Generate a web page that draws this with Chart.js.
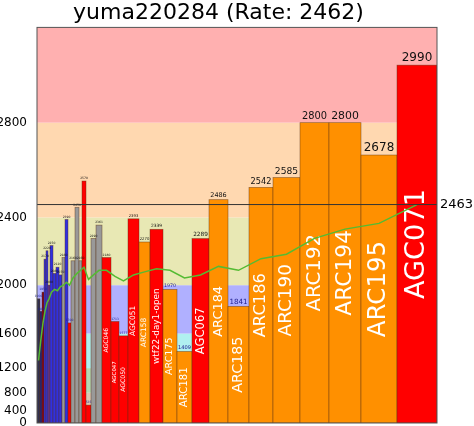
<!DOCTYPE html>
<html><head><meta charset="utf-8">
<script src="https://cdn.jsdelivr.net/npm/chart.js@4"></script>
<style>html,body{margin:0;padding:0;background:#fff}#w{width:474px;height:426px}</style>
</head><body><div id="w"><canvas id="c"></canvas></div>
<script>
const contests = ['','','','','','','','','','','','','','','','','','','','',
 'AGC046','AGC047','AGC050','AGC051','ARC158','wtf22-day1-open','ARC175','ARC181','AGC067','ARC184','ARC185','ARC186','ARC190','ARC192','ARC194','ARC195','AGC071'];
const perf = [1900,1800,1950,2170,2220,2000,2250,2080,2120,2070,2180,2390,1700,2160,2450,2160,2570,535,2290,2361,
 2180,1713,1577,2393,2270,2339,1970,1409,2289,2486,1841,2542,2585,2800,2800,2678,2990];
const weights = [3,2,2,2,2,2,3,3,3,3,3,3,3,4,4,3,4,5,5,6,9,8,9,11,11,13,14,15,17,19,21,24,27,29,32,36,40];
const barColors = ['#303050','#202080','#800020','#3030e0','#3030e0','#6030a0','#3030e0','#3030e0','#3030e0','#3030e0','#999999','#3030e0','#ff0000','#999999','#999999','#999999','#ff0000','#ff0000','#999999','#999999',
 '#ff0000','#ff0000','#ff0000','#ff0000','#ff9000','#ff0000','#ff9000','#ff9000','#ff0000','#ff9000','#ff9000','#ff9000','#ff9000','#ff9000','#ff9000','#ff9000','#ff0000'];
const rating = [1300,1550,1700,1800,1870,1900,1950,1970,1960,1990,2000,2020,2000,2050,2080,2100,2120,2040,2070,2100,
 2100,2060,2030,2070,2090,2110,2100,2050,2070,2125,2100,2173,2200,2290,2340,2370,2463];
const currentRate = 2463;
const yTicks = [0,400,800,1200,1600,2000,2400,2800];
const bands = [[0,400,'#d8d8d8'],[400,800,'#dcc8b4'],[800,1200,'#b4d8b4'],[1200,1600,'#b0f0f0'],[1600,2000,'#b0b0ff'],[2000,2400,'#e8e8b4'],[2400,2800,'#ffd8b0'],[2800,4000,'#ffb0b0']];

const T = r => Math.pow(1.4, r/400) - 1;
const Tinv = v => 400*Math.log(v+1)/Math.log(1.4);
const edges = [0]; weights.forEach(w => edges.push(edges[edges.length-1]+w));
const total = edges[edges.length-1];
const linePts = rating.map((r,i)=>({x:(edges[i]+edges[i+1])/2, y:T(r)}));

const drawPlug = {
  id:'bars',
  beforeDatasetsDraw(ch){
    const {ctx, chartArea:a, scales:{x,y}} = ch;
    ctx.save();
    ctx.beginPath(); ctx.rect(a.left,a.top,a.right-a.left,a.bottom-a.top); ctx.clip();
    bands.forEach(([lo,hi,c])=>{
      const y1=y.getPixelForValue(T(hi)), y0=y.getPixelForValue(T(lo));
      ctx.fillStyle=c; ctx.fillRect(a.left,y1,a.right-a.left,y0-y1);
    });
    perf.forEach((p,i)=>{
      const x0=x.getPixelForValue(edges[i]), x1=x.getPixelForValue(edges[i+1]);
      const yt=y.getPixelForValue(T(p)), yb=y.getPixelForValue(0);
      ctx.fillStyle=barColors[i]; ctx.fillRect(x0,yt,x1-x0,yb-yt);
      ctx.strokeStyle='rgba(90,50,20,0.6)'; ctx.lineWidth=0.7; ctx.strokeRect(x0,yt,x1-x0,yb-yt);
    });
    ctx.restore();
    ctx.save();
    perf.forEach((p,i)=>{
      const x0=x.getPixelForValue(edges[i]), x1=x.getPixelForValue(edges[i+1]);
      const w=x1-x0, cx=(x0+x1)/2;
      const yt=y.getPixelForValue(T(p)), yb=y.getPixelForValue(0);
      const fs=Math.min(12,Math.max(3,w*0.34));
      ctx.font=fs+'px "DejaVu Sans"'; ctx.textAlign='center'; ctx.textBaseline='bottom';
      ctx.fillStyle = p<2000 ? '#202090' : '#111';
      ctx.fillText(String(p),cx,yt-1);
      if(contests[i]){
        const lf=Math.min(28,w*0.68);
        ctx.save(); ctx.translate(cx,(yt+yb)/2); ctx.rotate(-Math.PI/2);
        ctx.font=lf+'px "DejaVu Sans"'; ctx.fillStyle='#fff'; ctx.textBaseline='middle';
        ctx.fillText(contests[i],0,0); ctx.restore();
      }
    });
    ctx.restore();
  },
  afterDatasetsDraw(ch){
    const {ctx, chartArea:a, scales:{y}} = ch;
    const yy=y.getPixelForValue(T(currentRate));
    ctx.save(); ctx.strokeStyle='#333'; ctx.lineWidth=1;
    ctx.beginPath(); ctx.moveTo(a.left,yy); ctx.lineTo(a.right,yy); ctx.stroke();
    ctx.font='13px "DejaVu Sans"'; ctx.fillStyle='#000'; ctx.textBaseline='middle'; ctx.textAlign='left';
    ctx.fillText(String(currentRate),a.right+3,yy);
    ctx.strokeStyle='#555'; ctx.strokeRect(a.left,a.top,a.right-a.left,a.bottom-a.top);
    ctx.restore();
  }
};

new Chart(document.getElementById('c'),{
  type:'line',
  data:{datasets:[{data:linePts,borderColor:'#55bb33',borderWidth:1.5,pointRadius:0,tension:0}]},
  options:{
    responsive:true, maintainAspectRatio:false, animation:false,
    layout:{padding:{left:0,right:37,top:0,bottom:3}},
    plugins:{legend:{display:false},tooltip:{enabled:false},
      title:{display:true,text:'yuma220284 (Rate: 2462)',color:'#000',font:{size:22,family:'DejaVu Sans',weight:'normal'},padding:{top:0,bottom:1}}},
    scales:{
      x:{type:'linear',min:0,max:total,display:false},
      y:{type:'linear',min:0,max:T(3100),grid:{display:false},border:{display:false},
        afterFit(s){s.width=37; s.paddingBottom=0; s.paddingTop=0;},
        afterBuildTicks(s){s.ticks=yTicks.map(v=>({value:T(v)}));},
        ticks:{color:'#000',font:{size:12,family:'DejaVu Sans'},padding:2,callback:v=>String(Math.round(Tinv(v)))}}
    }
  },
  plugins:[drawPlug]
});
</script></body></html>
